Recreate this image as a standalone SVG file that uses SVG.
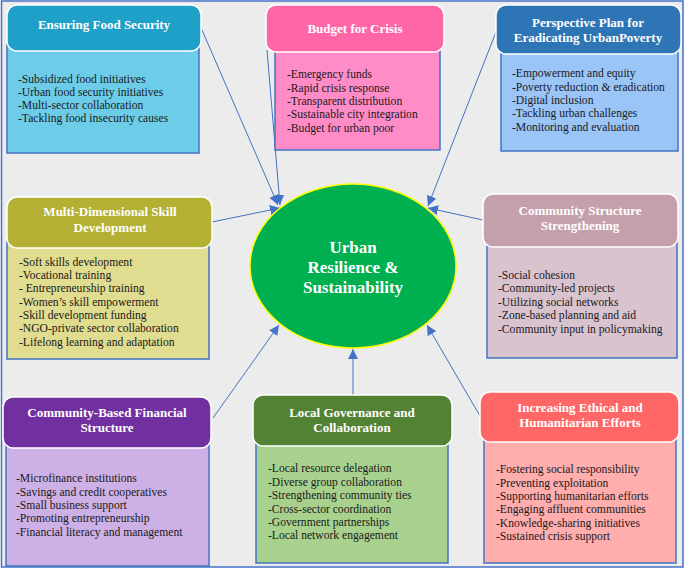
<svg xmlns="http://www.w3.org/2000/svg" width="685" height="571" viewBox="0 0 685 571">
<style>
.hd{stroke:#ffffff;stroke-width:1.5}
.bd{stroke:#4472c4;stroke-width:1.5}
.ht{font-family:"Liberation Serif",serif;font-weight:bold;font-size:13px;fill:#ffffff;text-anchor:middle}
.bt{font-family:"Liberation Serif",serif;font-size:11.6px;fill:#1a1a1a}
.cn{stroke:#4472c4;stroke-width:1;fill:none;marker-end:url(#ah)}
.ct{font-family:"Liberation Serif",serif;font-weight:bold;font-size:17px;fill:#ffffff;text-anchor:middle}
</style>
<defs>
<marker id="ah" viewBox="0 0 10 10" refX="10" refY="5" markerWidth="10" markerHeight="10" markerUnits="userSpaceOnUse" orient="auto">
<path d="M0,0 L10,5 L0,10 z" fill="#4472c4"/>
</marker>
</defs>
<rect x="1.5" y="1" width="681.5" height="566" fill="#ececec" stroke="#4472c4" stroke-width="1.5"/>

<g id="connectors">
<line class="cn" x1="202" y1="30" x2="278" y2="205"/>
<line class="cn" x1="267" y1="50" x2="280" y2="205"/>
<line class="cn" x1="496" y1="32" x2="428" y2="206"/>
<line class="cn" x1="212" y1="222" x2="280" y2="208"/>
<line class="cn" x1="483" y1="220" x2="428" y2="208"/>
<line class="cn" x1="213" y1="418" x2="279" y2="325"/>
<line class="cn" x1="353" y1="395" x2="353" y2="349"/>
<line class="cn" x1="480" y1="416" x2="427" y2="325"/>
</g>

<g id="center">
<ellipse cx="353" cy="266" rx="103" ry="82" fill="#00b050" stroke="#ffff00" stroke-width="1.5"/>
<text class="ct" x="353" y="253">Urban</text>
<text class="ct" x="353" y="273">Resilience &amp;</text>
<text class="ct" x="353" y="293">Sustainability</text>
</g>

<g id="food-security">
<rect class="bd" x="7" y="45" width="192" height="108" fill="#6dcde8"/>
<rect class="hd" x="7" y="5" width="194" height="46" rx="10" fill="#1fa0c9"/>
<text class="ht" x="104" y="29">Ensuring Food Security</text>
<text class="bt" x="18" y="83">-Subsidized food initiatives</text>
<text class="bt" x="18" y="96">-Urban food security initiatives</text>
<text class="bt" x="18" y="109">-Multi-sector collaboration</text>
<text class="bt" x="18" y="122">-Tackling food insecurity causes</text>
</g>

<g id="budget">
<rect class="bd" x="275" y="45" width="165" height="105" fill="#ff8cc6"/>
<rect class="hd" x="266" y="5" width="178" height="47" rx="10" fill="#ff66a8"/>
<text class="ht" x="355" y="33">Budget for Crisis</text>
<text class="bt" x="287" y="78">-Emergency funds</text>
<text class="bt" x="287" y="91.5">-Rapid crisis response</text>
<text class="bt" x="287" y="105">-Transparent distribution</text>
<text class="bt" x="287" y="118">-Sustainable city integration</text>
<text class="bt" x="287" y="131.5">-Budget for urban poor</text>
</g>

<g id="perspective-plan">
<rect class="bd" x="501" y="48" width="177" height="103" fill="#9bc5f7"/>
<rect class="hd" x="496" y="5" width="185" height="49" rx="10" fill="#2e75b6"/>
<text class="ht" x="588" y="27">Perspective Plan for</text>
<text class="ht" x="588" y="42">Eradicating UrbanPoverty</text>
<text class="bt" x="512" y="77">-Empowerment and equity</text>
<text class="bt" x="512" y="90.5">-Poverty reduction &amp; eradication</text>
<text class="bt" x="512" y="104">-Digital inclusion</text>
<text class="bt" x="512" y="117">-Tackling urban challenges</text>
<text class="bt" x="512" y="131">-Monitoring and evaluation</text>
</g>

<g id="skill-development">
<rect class="bd" x="7" y="242" width="202" height="117" fill="#e0dc90"/>
<rect class="hd" x="7" y="197" width="205" height="51" rx="10" fill="#b3b034"/>
<text class="ht" x="110" y="216">Multi-Dimensional Skill</text>
<text class="ht" x="110" y="232">Development</text>
<text class="bt" x="19" y="266">-Soft skills development</text>
<text class="bt" x="19" y="279">-Vocational training</text>
<text class="bt" x="19" y="292">- Entrepreneurship training</text>
<text class="bt" x="19" y="306">-Women’s skill empowerment</text>
<text class="bt" x="19" y="319">-Skill development funding</text>
<text class="bt" x="19" y="332">-NGO-private sector collaboration</text>
<text class="bt" x="19" y="346">-Lifelong learning and adaptation</text>
</g>

<g id="community-structure">
<rect class="bd" x="487" y="241" width="190" height="117" fill="#d9c3ce"/>
<rect class="hd" x="483" y="194" width="195" height="53" rx="10" fill="#c4a0ad"/>
<text class="ht" x="580" y="215">Community Structure</text>
<text class="ht" x="580" y="230">Strengthening</text>
<text class="bt" x="498" y="279">-Social cohesion</text>
<text class="bt" x="498" y="292">-Community-led projects</text>
<text class="bt" x="498" y="306">-Utilizing social networks</text>
<text class="bt" x="498" y="319">-Zone-based planning and aid</text>
<text class="bt" x="498" y="333">-Community input in policymaking</text>
</g>

<g id="financial-structure">
<rect class="bd" x="6" y="442" width="203" height="124" fill="#cdb0e6"/>
<rect class="hd" x="3" y="397" width="208" height="51" rx="10" fill="#7030a0"/>
<text class="ht" x="107" y="417">Community-Based Financial</text>
<text class="ht" x="107" y="432">Structure</text>
<text class="bt" x="16" y="482">-Microfinance institutions</text>
<text class="bt" x="16" y="495.5">-Savings and credit cooperatives</text>
<text class="bt" x="16" y="509">-Small business support</text>
<text class="bt" x="16" y="522">-Promoting entrepreneurship</text>
<text class="bt" x="16" y="536">-Financial literacy and management</text>
</g>

<g id="local-governance">
<rect class="bd" x="256" y="440" width="192" height="123" fill="#a9d18e"/>
<rect class="hd" x="253" y="395" width="199" height="51" rx="10" fill="#548235"/>
<text class="ht" x="352" y="417">Local Governance and</text>
<text class="ht" x="352" y="432">Collaboration</text>
<text class="bt" x="268" y="472">-Local resource delegation</text>
<text class="bt" x="268" y="485.5">-Diverse group collaboration</text>
<text class="bt" x="268" y="499">-Strengthening community ties</text>
<text class="bt" x="268" y="512.5">-Cross-sector coordination</text>
<text class="bt" x="268" y="526">-Government partnerships</text>
<text class="bt" x="268" y="539">-Local network engagement</text>
</g>

<g id="ethical-efforts">
<rect class="bd" x="484" y="436" width="192" height="127" fill="#ffadad"/>
<rect class="hd" x="480" y="392" width="199" height="50" rx="10" fill="#ff6666"/>
<text class="ht" x="580" y="412">Increasing Ethical and</text>
<text class="ht" x="580" y="427">Humanitarian Efforts</text>
<text class="bt" x="496" y="473">-Fostering social responsibility</text>
<text class="bt" x="496" y="486.5">-Preventing exploitation</text>
<text class="bt" x="496" y="500">-Supporting humanitarian efforts</text>
<text class="bt" x="496" y="513">-Engaging affluent communities</text>
<text class="bt" x="496" y="527">-Knowledge-sharing initiatives</text>
<text class="bt" x="496" y="540">-Sustained crisis support</text>
</g>
</svg>
